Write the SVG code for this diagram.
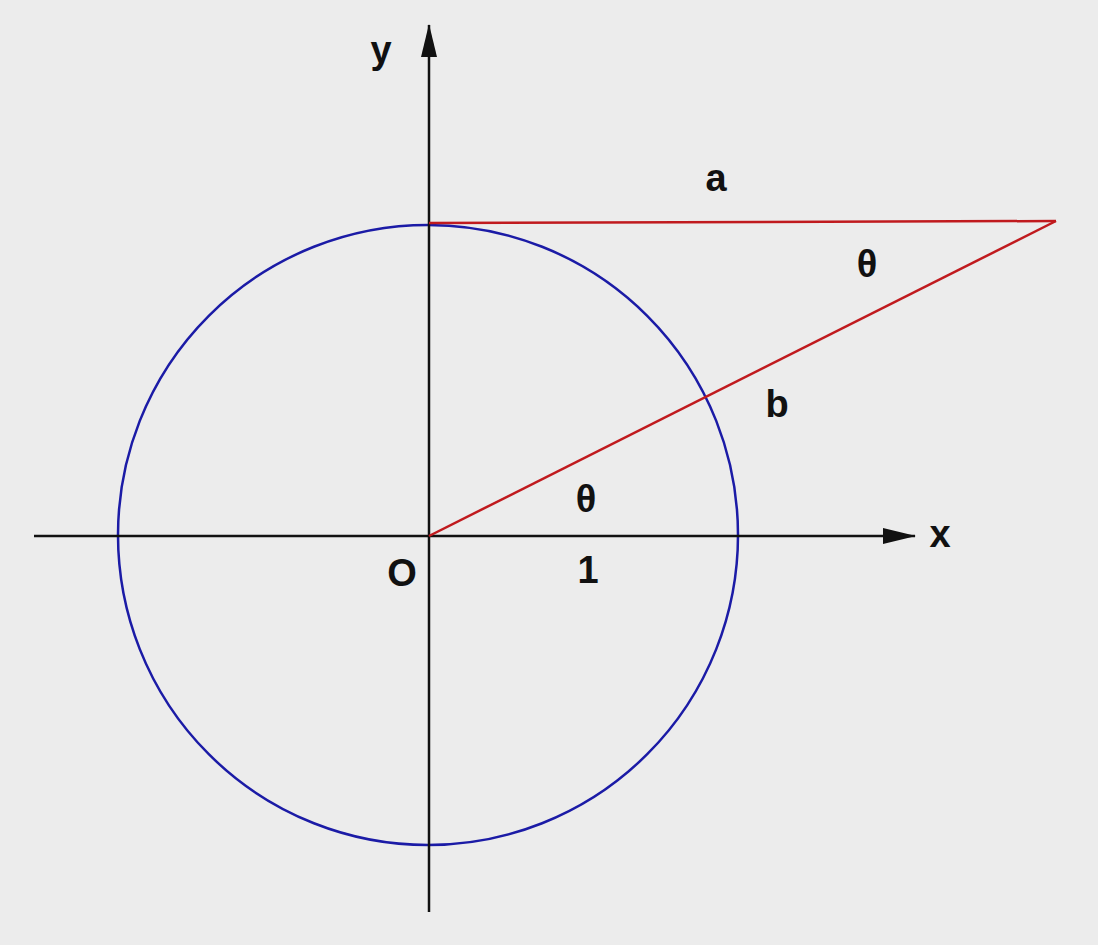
<svg xmlns="http://www.w3.org/2000/svg" width="1098" height="945" viewBox="0 0 1098 945">
<style>
.lbl{font-family:"Liberation Sans",Arial,sans-serif;font-weight:bold;font-size:38px;fill:#111;text-anchor:middle}
.axis{stroke:#111;stroke-width:2.5;fill:none}
.red{stroke:#c01a1e;stroke-width:2.5;fill:none}
</style>
<defs>
<marker id="arr" markerUnits="userSpaceOnUse" markerWidth="34" markerHeight="18" refX="32" refY="8" orient="auto">
<path d="M0,0 L33,8 L0,16 Z" fill="#111"/>
</marker>
</defs>
<rect width="1098" height="945" fill="#ececec"/>
<g id="circle">
<circle cx="428" cy="535" r="310" fill="none" stroke="#1b1ba6" stroke-width="2.5"/>
</g>
<g id="connectors">
<line class="axis" x1="34" y1="536" x2="915" y2="536" marker-end="url(#arr)"/>
<line class="axis" x1="429" y1="912" x2="429" y2="25" marker-end="url(#arr)"/>
<line class="red" x1="429" y1="223" x2="1056" y2="221"/>
<line class="red" x1="429" y1="536" x2="1056" y2="221"/>
</g>
<g id="labels">
<text class="lbl" x="381" y="63">y</text>
<text class="lbl" x="716" y="191">a</text>
<text class="lbl" x="867" y="277">θ</text>
<text class="lbl" x="777" y="417">b</text>
<text class="lbl" x="586" y="512">θ</text>
<text class="lbl" x="940" y="547">x</text>
<text class="lbl" x="402" y="586">O</text>
<text class="lbl" x="588" y="583">1</text>
</g>
</svg>
